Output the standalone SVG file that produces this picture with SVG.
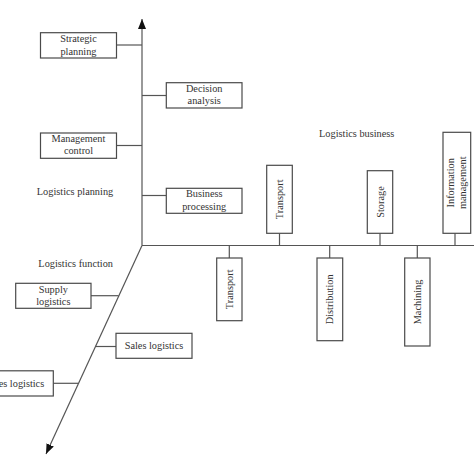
<svg xmlns="http://www.w3.org/2000/svg" width="474" height="474" viewBox="0 0 474 474">
<style>
.box{fill:#fff;stroke:#4a4a4a;stroke-width:1.2}
.ln{fill:none;stroke:#555;stroke-width:1.2}
text{font-family:"Liberation Serif","Times New Roman",serif;font-size:10.3px;fill:#333;text-anchor:middle}
</style>
<defs>
<marker id="arr" markerUnits="userSpaceOnUse" markerWidth="10" markerHeight="10" viewBox="0 0 10 8" refX="10" refY="4" orient="auto">
<path d="M0,0 L10,4 L0,8 Z" fill="#111"/>
</marker>
</defs>
<rect width="474" height="474" fill="#fff"/>
<g id="connectors">
<line class="ln" x1="142" y1="245.5" x2="142" y2="19" marker-end="url(#arr)"/>
<line class="ln" x1="142" y1="245.5" x2="474" y2="245.5"/>
<line class="ln" x1="142" y1="245.5" x2="46" y2="454" marker-end="url(#arr)"/>
<line class="ln" x1="116.5" y1="45" x2="142" y2="45"/>
<line class="ln" x1="142" y1="95.5" x2="166.3" y2="95.5"/>
<line class="ln" x1="116.5" y1="145.5" x2="142" y2="145.5"/>
<line class="ln" x1="142" y1="195.5" x2="166.3" y2="195.5"/>
<line class="ln" x1="279.5" y1="233.3" x2="279.5" y2="245.5"/>
<line class="ln" x1="380" y1="233.3" x2="380" y2="245.5"/>
<line class="ln" x1="455" y1="233.3" x2="455" y2="245.5"/>
<line class="ln" x1="229.3" y1="245.5" x2="229.3" y2="258"/>
<line class="ln" x1="329.7" y1="245.5" x2="329.7" y2="258"/>
<line class="ln" x1="417.3" y1="245.5" x2="417.3" y2="258"/>
<line class="ln" x1="91" y1="295.7" x2="118.6" y2="295.7"/>
<line class="ln" x1="95" y1="346.5" x2="116" y2="346.5"/>
<line class="ln" x1="53.3" y1="383.3" x2="78.2" y2="383.3"/>
</g>
<g id="strategic-planning">
<rect class="box" x="40.5" y="32.7" width="76" height="25.3"/>
<text x="78.5" y="41.8">Strategic</text>
<text x="78.5" y="54.6">planning</text>
</g>
<g id="decision-analysis">
<rect class="box" x="166.3" y="82.7" width="75.7" height="25.3"/>
<text x="204.2" y="91.6">Decision</text>
<text x="204.2" y="104.4">analysis</text>
</g>
<g id="management-control">
<rect class="box" x="40.5" y="133" width="76" height="25.3"/>
<text x="78.5" y="141.6">Management</text>
<text x="78.5" y="154.4">control</text>
</g>
<g id="logistics-planning">
<text x="75" y="194.5">Logistics planning</text>
</g>
<g id="business-processing">
<rect class="box" x="166.3" y="188.3" width="75.7" height="25"/>
<text x="204.2" y="196.8">Business</text>
<text x="204.2" y="209.6">processing</text>
</g>
<g id="logistics-business">
<text x="356.7" y="136.5">Logistics business</text>
</g>
<g id="transport-top">
<rect class="box" x="266.7" y="165.3" width="25.6" height="68"/>
<text transform="translate(279.5,199.3) rotate(-90)" y="3.5">Transport</text>
</g>
<g id="storage">
<rect class="box" x="367.3" y="170.7" width="25.4" height="62.6"/>
<text transform="translate(380,202) rotate(-90)" y="3.5">Storage</text>
</g>
<g id="information-management">
<rect class="box" x="443" y="132.3" width="27.7" height="101"/>
<text transform="translate(456.8,182.8) rotate(-90)" y="-2.5">Information</text>
<text transform="translate(456.8,182.8) rotate(-90)" y="9.5">management</text>
</g>
<g id="transport-bottom">
<rect class="box" x="216.7" y="258" width="25.3" height="62.7"/>
<text transform="translate(229.3,289.3) rotate(-90)" y="3.5">Transport</text>
</g>
<g id="distribution">
<rect class="box" x="317" y="258" width="25.7" height="82.7"/>
<text transform="translate(329.8,299.3) rotate(-90)" y="3.5">Distribution</text>
</g>
<g id="machining">
<rect class="box" x="404.7" y="258" width="25.3" height="88"/>
<text transform="translate(417.3,302) rotate(-90)" y="3.5">Machining</text>
</g>
<g id="logistics-function">
<text x="75.7" y="267">Logistics function</text>
</g>
<g id="supply-logistics">
<rect class="box" x="15.7" y="283.3" width="75.3" height="25"/>
<text x="53.3" y="292.5">Supply</text>
<text x="53.3" y="305.2">logistics</text>
</g>
<g id="sales-logistics">
<rect class="box" x="116" y="333.3" width="76" height="25"/>
<text x="154" y="349">Sales logistics</text>
</g>
<g id="clipped-logistics">
<rect class="box" x="-22.7" y="370.8" width="76" height="25.2"/>
<text x="44.2" y="386.5" style="text-anchor:end">es logistics</text>
</g>
</svg>
